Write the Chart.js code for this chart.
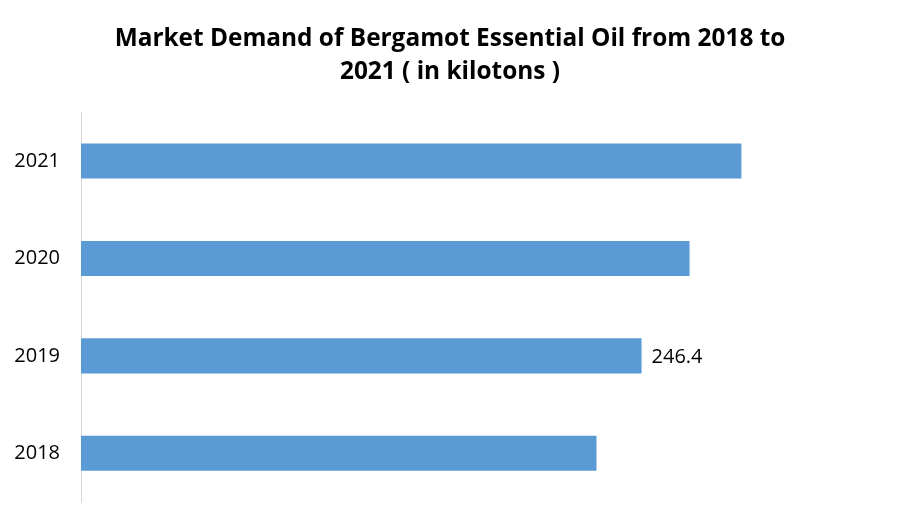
<!DOCTYPE html>
<html>
<head>
<meta charset="utf-8">
<script src="https://cdn.jsdelivr.net/npm/chart.js@4"></script>
<style>
  html, body { margin: 0; padding: 0; background: #fff; }
  #wrap { width: 900px; height: 525px; }
</style>
</head>
<body>
<div id="wrap"><canvas id="mycanvas" width="900" height="525"></canvas></div>
<script>
// values (only 2019 is labelled in the original)
var years = ["2021", "2020", "2019", "2018"];
var demand = [290.3, 267.5, 246.4, 226.6];
var shownLabels = ["", "", "246.4", ""];
var titleLines = ["Market Demand of Bergamot Essential Oil from 2018 to", "2021 ( in kilotons )"];

var FONT = "'Open Sans', 'Liberation Sans', sans-serif";

// draws the single data label at the end of the bar
var barLabels = {
  id: "barLabels",
  afterDatasetsDraw: function(chart) {
    var ctx = chart.ctx;
    var meta = chart.getDatasetMeta(0);
    ctx.save();
    ctx.font = "20px " + FONT;
    ctx.fillStyle = "#000";
    ctx.textBaseline = "middle";
    ctx.textAlign = "left";
    meta.data.forEach(function(bar, i) {
      if (shownLabels[i]) {
        ctx.fillText(shownLabels[i], bar.x + 10, bar.y + 1);
      }
    });
    ctx.restore();
  }
};

var chartdata = {
  labels: years,
  datasets: [
    {
      label: "Demand",
      backgroundColor: "#5B9BD5",
      borderWidth: 0,
      barPercentage: 0.36,
      categoryPercentage: 1,
      data: demand
    }
  ]
};

var ctx = document.getElementById("mycanvas");

var BarGraph = new Chart(ctx, {
  type: "bar",
  data: chartdata,
  plugins: [barLabels],
  options: {
    indexAxis: "y",
    responsive: false,
    animation: false,
    layout: { padding: { left: 0, right: 0, top: 0, bottom: 23 } },
    plugins: {
      legend: { display: false },
      tooltip: { enabled: false },
      title: {
        display: true,
        text: titleLines,
        color: "#000",
        font: { family: FONT, size: 24.4, weight: "bold", lineHeight: 1.38 },
        padding: { top: 22, bottom: 23 }
      }
    },
    scales: {
      x: {
        display: false,
        min: 0,
        max: 360
      },
      y: {
        grid: { display: false, drawTicks: false },
        border: { display: true, color: "#D9D9D9", width: 1 },
        ticks: {
          color: "#000",
          padding: 21,
          font: { family: FONT, size: 20 }
        },
        afterFit: function(scale) {
          scale.width = 81;
          scale.paddingTop = 0;
          scale.paddingBottom = 0;
        }
      }
    }
  }
});
</script>
</body>
</html>
